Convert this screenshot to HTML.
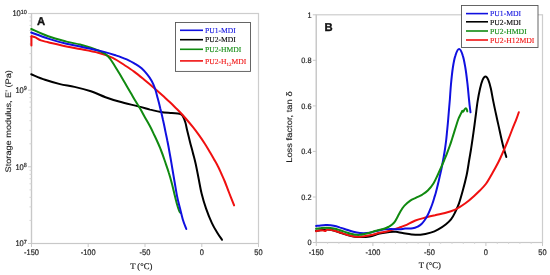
<!DOCTYPE html>
<html><head><meta charset="utf-8"><style>
html,body{margin:0;padding:0;background:#fff;width:550px;height:275px;overflow:hidden}
svg{display:block;text-rendering:geometricPrecision}
</style></head><body>
<svg width="550" height="275" viewBox="0 0 550 275">
<rect width="550" height="275" fill="#fff"/>
<rect x="31.5" y="13.5" width="227.0" height="230.0" fill="none" stroke="#cdcdcd" stroke-width="1.2"/>
<path d="M31.5,13.5 V243.5 H258.5" fill="none" stroke="#c8c8c8" stroke-width="1.2"/>
<path d="M28.0,243.5 H31.5" stroke="#c8c8c8" stroke-width="1"/>
<path d="M29.5,220.4 H31.5" stroke="#d4d4d4" stroke-width="1"/>
<path d="M29.5,206.9 H31.5" stroke="#d4d4d4" stroke-width="1"/>
<path d="M29.5,197.3 H31.5" stroke="#d4d4d4" stroke-width="1"/>
<path d="M29.5,189.9 H31.5" stroke="#d4d4d4" stroke-width="1"/>
<path d="M29.5,183.8 H31.5" stroke="#d4d4d4" stroke-width="1"/>
<path d="M29.5,178.7 H31.5" stroke="#d4d4d4" stroke-width="1"/>
<path d="M29.5,174.3 H31.5" stroke="#d4d4d4" stroke-width="1"/>
<path d="M29.5,170.3 H31.5" stroke="#d4d4d4" stroke-width="1"/>
<path d="M28.0,166.8 H31.5" stroke="#c8c8c8" stroke-width="1"/>
<path d="M29.5,143.8 H31.5" stroke="#d4d4d4" stroke-width="1"/>
<path d="M29.5,130.3 H31.5" stroke="#d4d4d4" stroke-width="1"/>
<path d="M29.5,120.7 H31.5" stroke="#d4d4d4" stroke-width="1"/>
<path d="M29.5,113.2 H31.5" stroke="#d4d4d4" stroke-width="1"/>
<path d="M29.5,107.2 H31.5" stroke="#d4d4d4" stroke-width="1"/>
<path d="M29.5,102.0 H31.5" stroke="#d4d4d4" stroke-width="1"/>
<path d="M29.5,97.6 H31.5" stroke="#d4d4d4" stroke-width="1"/>
<path d="M29.5,93.7 H31.5" stroke="#d4d4d4" stroke-width="1"/>
<path d="M28.0,90.2 H31.5" stroke="#c8c8c8" stroke-width="1"/>
<path d="M29.5,67.1 H31.5" stroke="#d4d4d4" stroke-width="1"/>
<path d="M29.5,53.6 H31.5" stroke="#d4d4d4" stroke-width="1"/>
<path d="M29.5,44.0 H31.5" stroke="#d4d4d4" stroke-width="1"/>
<path d="M29.5,36.6 H31.5" stroke="#d4d4d4" stroke-width="1"/>
<path d="M29.5,30.5 H31.5" stroke="#d4d4d4" stroke-width="1"/>
<path d="M29.5,25.4 H31.5" stroke="#d4d4d4" stroke-width="1"/>
<path d="M29.5,20.9 H31.5" stroke="#d4d4d4" stroke-width="1"/>
<path d="M29.5,17.0 H31.5" stroke="#d4d4d4" stroke-width="1"/>
<path d="M28.0,13.5 H31.5" stroke="#c8c8c8" stroke-width="1"/>
<path d="M31.5,243.5 V247.0" stroke="#c8c8c8" stroke-width="1"/>
<path d="M88.2,243.5 V247.0" stroke="#c8c8c8" stroke-width="1"/>
<path d="M145.0,243.5 V247.0" stroke="#c8c8c8" stroke-width="1"/>
<path d="M201.8,243.5 V247.0" stroke="#c8c8c8" stroke-width="1"/>
<path d="M258.5,243.5 V247.0" stroke="#c8c8c8" stroke-width="1"/>
<rect x="316.3" y="14.8" width="226.2" height="227.7" fill="none" stroke="#cdcdcd" stroke-width="1.2"/>
<path d="M316.3,14.8 V242.5 H542.5" fill="none" stroke="#c8c8c8" stroke-width="1.2"/>
<path d="M312.8,242.5 H316.3" stroke="#c8c8c8" stroke-width="1"/>
<path d="M312.8,197.0 H316.3" stroke="#c8c8c8" stroke-width="1"/>
<path d="M312.8,151.4 H316.3" stroke="#c8c8c8" stroke-width="1"/>
<path d="M312.8,105.9 H316.3" stroke="#c8c8c8" stroke-width="1"/>
<path d="M312.8,60.3 H316.3" stroke="#c8c8c8" stroke-width="1"/>
<path d="M312.8,14.8 H316.3" stroke="#c8c8c8" stroke-width="1"/>
<path d="M316.3,242.5 V246.0" stroke="#c8c8c8" stroke-width="1"/>
<path d="M327.6,242.5 V244.0" stroke="#d8d8d8" stroke-width="1"/>
<path d="M338.9,242.5 V244.0" stroke="#d8d8d8" stroke-width="1"/>
<path d="M350.2,242.5 V244.0" stroke="#d8d8d8" stroke-width="1"/>
<path d="M361.5,242.5 V244.0" stroke="#d8d8d8" stroke-width="1"/>
<path d="M372.9,242.5 V246.0" stroke="#c8c8c8" stroke-width="1"/>
<path d="M384.2,242.5 V244.0" stroke="#d8d8d8" stroke-width="1"/>
<path d="M395.5,242.5 V244.0" stroke="#d8d8d8" stroke-width="1"/>
<path d="M406.8,242.5 V244.0" stroke="#d8d8d8" stroke-width="1"/>
<path d="M418.1,242.5 V244.0" stroke="#d8d8d8" stroke-width="1"/>
<path d="M429.4,242.5 V246.0" stroke="#c8c8c8" stroke-width="1"/>
<path d="M440.7,242.5 V244.0" stroke="#d8d8d8" stroke-width="1"/>
<path d="M452.0,242.5 V244.0" stroke="#d8d8d8" stroke-width="1"/>
<path d="M463.3,242.5 V244.0" stroke="#d8d8d8" stroke-width="1"/>
<path d="M474.6,242.5 V244.0" stroke="#d8d8d8" stroke-width="1"/>
<path d="M485.9,242.5 V246.0" stroke="#c8c8c8" stroke-width="1"/>
<path d="M497.3,242.5 V244.0" stroke="#d8d8d8" stroke-width="1"/>
<path d="M508.6,242.5 V244.0" stroke="#d8d8d8" stroke-width="1"/>
<path d="M519.9,242.5 V244.0" stroke="#d8d8d8" stroke-width="1"/>
<path d="M531.2,242.5 V244.0" stroke="#d8d8d8" stroke-width="1"/>
<path d="M542.5,242.5 V246.0" stroke="#c8c8c8" stroke-width="1"/>
<path d="M31.2,74.2 C33.5,75.1 40.2,78.2 45.0,79.8 C49.8,81.4 55.1,82.9 60.0,84.1 C64.9,85.3 69.3,85.7 74.5,86.9 C79.7,88.1 85.7,89.6 90.9,91.3 C96.1,93.0 100.7,95.5 105.5,97.2 C110.3,99.0 114.5,100.3 120.0,101.8 C125.5,103.3 133.2,105.1 138.2,106.4 C143.2,107.7 146.2,108.6 150.0,109.6 C153.8,110.5 157.3,111.5 160.9,112.1 C164.5,112.7 168.7,112.8 171.8,113.1 C174.9,113.4 177.7,113.4 179.5,113.8 C181.3,114.2 181.5,114.3 182.5,115.7 C183.5,117.1 184.5,119.8 185.3,122.3 C186.1,124.8 186.4,127.2 187.2,130.5 C188.0,133.8 189.1,138.3 190.0,142.0 C190.9,145.7 191.9,148.9 192.8,152.5 C193.7,156.1 194.6,159.1 195.6,163.5 C196.6,167.9 197.7,174.0 198.7,179.0 C199.7,184.0 200.4,188.6 201.6,193.5 C202.8,198.4 204.3,203.4 206.0,208.3 C207.7,213.2 209.9,218.7 211.8,222.8 C213.7,227.0 215.9,230.4 217.6,233.2 C219.3,236.0 221.3,238.7 222.0,239.8" fill="none" stroke="#000000" stroke-width="2.0" stroke-linejoin="round" stroke-linecap="round"/>
<path d="M31.4,36.3 L31.4,45.4" fill="none" stroke="#f01010" stroke-width="2.0" stroke-linejoin="round" stroke-linecap="round"/>
<path d="M31.8,36.3 C32.4,36.5 34.0,36.7 35.5,37.4 C37.0,38.1 38.8,39.6 40.9,40.4 C43.0,41.2 44.0,41.3 48.2,42.3 C52.5,43.3 61.1,45.4 66.4,46.5 C71.7,47.6 74.7,48.1 80.0,49.1 C85.3,50.1 92.8,51.3 98.2,52.8 C103.7,54.2 108.2,55.7 112.7,57.8 C117.2,59.9 121.4,63.2 125.0,65.5 C128.6,67.8 131.1,69.4 134.1,71.6 C137.1,73.8 139.9,76.1 143.2,78.8 C146.5,81.5 150.8,85.0 154.1,87.9 C157.4,90.8 160.5,93.6 163.2,96.0 C165.8,98.4 168.0,100.4 170.0,102.3 C172.0,104.2 173.2,105.4 175.0,107.2 C176.8,109.0 179.0,111.1 181.0,113.2 C183.0,115.3 185.0,117.7 187.0,120.0 C189.0,122.3 191.0,124.7 193.0,127.2 C195.0,129.7 197.0,132.4 199.0,135.2 C201.0,138.0 203.2,141.2 205.0,144.0 C206.8,146.8 208.5,149.7 210.0,152.2 C211.5,154.7 212.7,156.9 214.0,159.2 C215.3,161.5 216.6,163.5 217.8,166.0 C219.1,168.5 220.3,171.4 221.5,174.0 C222.7,176.6 223.5,178.3 224.8,181.5 C226.1,184.7 227.6,189.0 229.2,193.0 C230.8,197.0 233.3,203.3 234.1,205.4" fill="none" stroke="#f01010" stroke-width="2.0" stroke-linejoin="round" stroke-linecap="round"/>
<path d="M31.2,29.0 C34.0,30.2 42.3,34.2 48.2,36.3 C54.1,38.4 61.1,40.2 66.4,41.6 C71.7,43.0 75.9,43.5 80.0,44.5 C84.1,45.5 87.9,46.7 90.9,47.7 C93.9,48.7 95.8,49.4 98.2,50.5 C100.6,51.6 103.5,52.8 105.5,54.1 C107.5,55.5 108.5,56.7 110.0,58.6 C111.5,60.5 112.9,63.0 114.5,65.5 C116.1,68.0 117.8,70.9 119.6,73.8 C121.3,76.7 123.2,79.9 125.0,83.0 C126.8,86.1 128.8,89.5 130.5,92.4 C132.2,95.3 133.4,97.5 135.0,100.2 C136.6,102.9 138.4,105.7 140.1,108.6 C141.8,111.5 143.3,114.5 145.0,117.5 C146.7,120.5 148.4,123.3 150.0,126.3 C151.6,129.3 153.1,132.6 154.5,135.5 C155.9,138.4 157.2,141.2 158.2,143.5 C159.2,145.8 159.6,146.8 160.7,149.5 C161.8,152.2 163.2,156.1 164.5,160.0 C165.8,163.9 167.6,168.7 168.8,172.7 C170.1,176.7 171.1,180.5 172.0,184.0 C172.9,187.5 173.5,190.2 174.3,193.5 C175.1,196.8 176.0,200.6 176.8,203.5 C177.6,206.4 178.6,209.4 179.2,211.0 C179.8,212.6 180.4,212.7 180.6,213.0" fill="none" stroke="#108a10" stroke-width="2.0" stroke-linejoin="round" stroke-linecap="round"/>
<path d="M31.2,32.5 C34.0,33.5 42.3,36.7 48.2,38.6 C54.1,40.5 61.1,42.5 66.4,43.8 C71.7,45.1 74.7,45.5 80.0,46.6 C85.3,47.7 92.1,48.9 98.2,50.4 C104.3,51.9 112.4,54.4 116.4,55.6 C120.4,56.8 120.0,56.8 122.0,57.6 C124.0,58.4 126.5,59.3 128.7,60.3 C130.9,61.3 132.8,62.5 135.0,63.8 C137.2,65.1 139.6,66.5 141.6,68.3 C143.6,70.1 145.5,72.3 147.2,74.4 C148.9,76.5 150.4,78.6 151.7,80.9 C153.0,83.2 154.0,85.6 155.0,88.5 C156.0,91.4 156.9,95.2 157.8,98.5 C158.7,101.8 159.5,105.0 160.3,108.5 C161.2,112.0 162.1,115.7 162.9,119.5 C163.8,123.3 164.7,127.9 165.4,131.4 C166.1,134.9 166.6,136.7 167.3,140.5 C168.1,144.3 169.1,149.8 169.9,154.5 C170.8,159.2 171.6,164.4 172.4,169.0 C173.2,173.6 173.8,177.5 174.6,182.0 C175.4,186.5 176.2,191.8 177.0,195.9 C177.8,200.0 178.6,202.9 179.6,206.8 C180.6,210.7 181.7,215.8 182.8,219.5 C183.9,223.2 185.7,227.4 186.3,229.0" fill="none" stroke="#1010e0" stroke-width="2.0" stroke-linejoin="round" stroke-linecap="round"/>
<path d="M316.1,230.8 C316.9,230.7 318.8,230.4 320.6,230.2 C322.4,230.0 324.9,229.5 327.1,229.6 C329.3,229.7 331.5,230.0 333.7,230.5 C335.9,231.0 338.0,232.0 340.2,232.7 C342.4,233.4 344.6,234.3 346.8,234.9 C349.0,235.5 351.1,236.2 353.3,236.5 C355.5,236.8 357.1,237.0 359.9,237.0 C362.6,237.0 366.5,237.0 369.8,236.4 C373.1,235.8 376.3,234.3 379.6,233.6 C382.9,232.8 386.7,232.2 389.4,231.9 C392.1,231.6 393.7,231.6 395.9,231.8 C398.1,232.0 400.0,232.6 402.6,233.0 C405.2,233.4 408.6,234.1 411.6,234.4 C414.6,234.7 417.3,235.0 420.5,234.7 C423.7,234.4 427.7,233.5 430.7,232.6 C433.7,231.7 435.8,230.7 438.3,229.3 C440.9,227.9 443.9,225.9 446.0,224.2 C448.1,222.5 449.5,221.2 451.0,219.3 C452.5,217.4 453.7,215.3 455.0,212.6 C456.3,209.9 457.7,207.0 459.0,203.3 C460.3,199.6 461.5,195.2 462.8,190.5 C464.1,185.8 465.5,180.4 466.6,175.3 C467.7,170.2 468.5,164.2 469.2,160.0 C469.9,155.8 470.3,153.6 470.9,150.0 C471.5,146.4 472.0,142.9 472.6,138.7 C473.2,134.5 474.0,128.9 474.5,125.0 C475.0,121.0 475.3,118.9 475.8,115.0 C476.3,111.1 476.9,105.8 477.6,101.4 C478.3,97.0 479.2,92.4 480.0,88.8 C480.8,85.2 481.7,81.9 482.6,79.8 C483.5,77.7 484.6,76.4 485.5,76.4 C486.4,76.4 487.4,77.7 488.3,79.8 C489.2,81.9 490.1,85.2 490.9,88.8 C491.7,92.4 492.4,97.0 493.3,101.4 C494.2,105.8 495.1,110.2 496.2,115.0 C497.2,119.8 498.5,125.4 499.6,130.5 C500.7,135.6 501.9,141.1 503.0,145.5 C504.1,149.9 505.8,155.1 506.3,157.0" fill="none" stroke="#000000" stroke-width="2.0" stroke-linejoin="round" stroke-linecap="round"/>
<path d="M316.1,231.2 C316.9,231.0 319.4,230.4 320.6,230.3 C321.8,230.2 322.5,230.3 323.3,230.4 C324.1,230.5 324.9,231.1 325.5,231.0 C326.1,230.9 325.7,229.7 327.1,229.6 C328.5,229.5 331.5,229.9 333.7,230.4 C335.9,230.9 338.0,231.8 340.2,232.5 C342.4,233.2 344.6,234.1 346.8,234.7 C349.0,235.3 351.1,236.0 353.3,236.3 C355.5,236.7 357.1,237.0 359.9,236.8 C362.6,236.6 366.5,235.9 369.8,235.2 C373.1,234.5 376.3,233.6 379.6,232.8 C382.9,232.1 386.1,231.6 389.4,230.7 C392.7,229.8 396.6,228.5 399.2,227.6 C401.8,226.7 402.5,226.6 405.2,225.4 C407.9,224.2 412.0,221.8 415.4,220.5 C418.8,219.2 422.3,218.4 425.6,217.5 C428.9,216.6 431.8,215.9 435.0,215.2 C438.2,214.4 441.6,213.9 445.0,213.0 C448.4,212.1 451.8,211.2 455.2,209.6 C458.6,208.0 462.4,205.4 465.4,203.3 C468.4,201.2 470.6,199.2 473.0,197.0 C475.4,194.8 477.9,192.6 480.1,190.3 C482.3,188.1 484.1,186.4 486.2,183.5 C488.3,180.6 490.6,176.3 492.6,172.8 C494.6,169.3 496.5,165.8 498.2,162.5 C499.9,159.2 501.1,156.5 502.6,153.0 C504.2,149.5 506.0,145.2 507.5,141.5 C509.0,137.8 510.4,134.2 511.8,130.5 C513.2,126.8 515.0,122.6 516.2,119.6 C517.4,116.6 518.4,113.5 518.8,112.3" fill="none" stroke="#f01010" stroke-width="2.0" stroke-linejoin="round" stroke-linecap="round"/>
<path d="M316.1,226.0 C316.9,225.9 318.8,225.6 320.6,225.4 C322.4,225.2 324.9,225.0 327.1,225.1 C329.3,225.2 331.5,225.4 333.7,225.8 C335.9,226.2 338.0,226.9 340.2,227.6 C342.4,228.2 344.6,229.0 346.8,229.7 C349.0,230.4 351.1,231.2 353.3,231.8 C355.5,232.4 357.1,232.8 359.9,233.0 C362.6,233.2 366.5,233.2 369.8,232.7 C373.1,232.2 376.3,230.8 379.6,230.2 C382.9,229.6 386.1,229.2 389.4,229.1 C392.7,228.9 396.6,229.4 399.2,229.3 C401.8,229.2 402.8,228.8 405.0,228.6 C407.2,228.4 410.5,228.7 412.7,228.3 C414.9,228.0 416.5,227.2 418.0,226.5 C419.5,225.8 420.4,225.1 421.5,224.0 C422.6,222.9 423.8,221.4 424.8,220.0 C425.8,218.6 426.7,217.1 427.6,215.3 C428.5,213.6 429.4,211.4 430.2,209.5 C431.0,207.6 431.6,205.9 432.3,204.0 C433.0,202.1 433.6,200.0 434.2,198.0 C434.8,196.0 435.3,194.8 436.0,192.0 C436.7,189.2 437.9,184.6 438.6,181.5 C439.3,178.4 439.8,176.1 440.4,173.5 C441.0,170.9 441.5,168.7 442.0,166.0 C442.5,163.3 443.1,160.3 443.6,157.5 C444.1,154.7 444.6,151.9 445.0,149.0 C445.4,146.1 445.8,143.3 446.2,140.0 C446.6,136.7 446.9,132.7 447.3,129.0 C447.7,125.3 447.9,123.0 448.3,118.0 C448.7,113.0 449.4,104.7 449.9,99.0 C450.3,93.3 450.5,89.2 451.0,84.0 C451.5,78.8 452.1,72.7 452.8,68.0 C453.5,63.3 454.3,58.8 455.4,55.6 C456.4,52.4 457.9,49.0 459.1,49.0 C460.3,49.0 461.8,52.4 462.8,55.6 C463.9,58.8 464.6,63.4 465.4,68.0 C466.2,72.6 466.8,78.1 467.4,83.2 C468.0,88.3 468.5,94.6 468.9,98.4 C469.3,102.2 469.4,103.7 469.7,106.0 C470.0,108.3 470.4,111.2 470.5,112.3" fill="none" stroke="#1010e0" stroke-width="2.0" stroke-linejoin="round" stroke-linecap="round"/>
<path d="M316.1,228.7 C316.9,228.6 318.8,228.4 320.6,228.2 C322.4,228.0 324.9,227.6 327.1,227.7 C329.3,227.8 331.5,228.1 333.7,228.5 C335.9,228.9 338.0,229.6 340.2,230.3 C342.4,231.0 344.6,231.8 346.8,232.5 C349.0,233.2 351.1,233.9 353.3,234.3 C355.5,234.7 357.1,235.1 359.9,234.8 C362.6,234.5 367.3,233.3 369.8,232.7 C372.3,232.1 373.3,231.5 375.0,231.0 C376.7,230.5 378.4,230.2 380.0,229.8 C381.6,229.4 383.4,229.0 384.8,228.5 C386.2,228.0 387.1,227.6 388.2,227.0 C389.3,226.4 390.3,225.9 391.4,225.0 C392.5,224.1 393.6,223.3 394.7,221.8 C395.8,220.3 396.9,218.0 398.0,216.0 C399.1,214.0 400.4,211.5 401.5,209.8 C402.6,208.1 403.0,207.1 404.5,205.6 C406.0,204.1 408.4,201.9 410.3,200.6 C412.2,199.3 414.2,198.7 416.2,197.7 C418.1,196.7 420.1,196.0 422.0,194.8 C423.9,193.6 425.9,192.4 427.8,190.5 C429.7,188.6 432.0,185.8 433.6,183.2 C435.2,180.6 436.5,177.6 437.7,175.0 C438.9,172.4 439.9,170.1 441.0,167.6 C442.1,165.1 443.3,162.4 444.3,160.0 C445.3,157.6 446.1,155.7 447.0,153.3 C447.9,150.9 449.0,148.0 449.9,145.5 C450.8,143.0 451.1,141.9 452.2,138.5 C453.3,135.1 455.4,128.2 456.4,125.0 C457.4,121.8 457.6,121.1 458.2,119.5 C458.8,117.9 459.5,116.6 460.0,115.5 C460.5,114.4 461.0,113.5 461.4,112.7 C461.8,111.9 462.0,111.1 462.3,110.9 C462.6,110.7 462.8,111.8 463.2,111.6 C463.6,111.4 464.1,110.1 464.5,109.5 C464.9,108.9 465.5,108.2 465.9,108.2 C466.3,108.2 466.6,109.0 466.8,109.5 C467.0,110.0 467.2,111.1 467.3,111.4" fill="none" stroke="#108a10" stroke-width="2.0" stroke-linejoin="round" stroke-linecap="round"/>
<text transform="translate(26.8,246.4) scale(0.92,1)" text-anchor="end" font-family="Liberation Sans, Arial, sans-serif" font-size="8.2" fill="#222" stroke="#222" stroke-width="0.2">10<tspan font-size="5.9" dy="-2.8">7</tspan></text>
<text transform="translate(26.8,169.7) scale(0.92,1)" text-anchor="end" font-family="Liberation Sans, Arial, sans-serif" font-size="8.2" fill="#222" stroke="#222" stroke-width="0.2">10<tspan font-size="5.9" dy="-2.8">8</tspan></text>
<text transform="translate(26.8,93.1) scale(0.92,1)" text-anchor="end" font-family="Liberation Sans, Arial, sans-serif" font-size="8.2" fill="#222" stroke="#222" stroke-width="0.2">10<tspan font-size="5.9" dy="-2.8">9</tspan></text>
<text transform="translate(26.8,16.4) scale(0.92,1)" text-anchor="end" font-family="Liberation Sans, Arial, sans-serif" font-size="8.2" fill="#222" stroke="#222" stroke-width="0.2">10<tspan font-size="5.9" dy="-2.8">10</tspan></text>
<text transform="translate(31.5,255.3) scale(0.92,1)" text-anchor="middle" font-family="Liberation Sans, Arial, sans-serif" font-size="8.1" fill="#222" stroke="#222" stroke-width="0.2">-150</text>
<text transform="translate(88.2,255.3) scale(0.92,1)" text-anchor="middle" font-family="Liberation Sans, Arial, sans-serif" font-size="8.1" fill="#222" stroke="#222" stroke-width="0.2">-100</text>
<text transform="translate(145.0,255.3) scale(0.92,1)" text-anchor="middle" font-family="Liberation Sans, Arial, sans-serif" font-size="8.1" fill="#222" stroke="#222" stroke-width="0.2">-50</text>
<text transform="translate(201.8,255.3) scale(0.92,1)" text-anchor="middle" font-family="Liberation Sans, Arial, sans-serif" font-size="8.1" fill="#222" stroke="#222" stroke-width="0.2">0</text>
<text transform="translate(258.5,255.3) scale(0.92,1)" text-anchor="middle" font-family="Liberation Sans, Arial, sans-serif" font-size="8.1" fill="#222" stroke="#222" stroke-width="0.2">50</text>
<text x="141.2" y="268.9" text-anchor="middle" font-family="Liberation Serif, Times New Roman, serif" font-size="8.6" fill="#222" stroke="#222" stroke-width="0.2">T (°C)</text>
<text transform="translate(10.8,121.3) rotate(-90) scale(1,0.87)" text-anchor="middle" font-family="Liberation Sans, Arial, sans-serif" font-size="9.2" fill="#222" stroke="#222" stroke-width="0.15">Storage modulus, E' (Pa)</text>
<text x="37" y="24.6" font-family="Liberation Sans, Arial, sans-serif" font-weight="bold" font-size="11.3" fill="#111" stroke="#111" stroke-width="0.35">A</text>
<text transform="translate(311.5,245.3) scale(0.93,1)" text-anchor="end" font-family="Liberation Sans, Arial, sans-serif" font-size="7.9" fill="#222" stroke="#222" stroke-width="0.2">0</text>
<text transform="translate(311.5,199.8) scale(0.93,1)" text-anchor="end" font-family="Liberation Sans, Arial, sans-serif" font-size="7.9" fill="#222" stroke="#222" stroke-width="0.2">0.2</text>
<text transform="translate(311.5,154.2) scale(0.93,1)" text-anchor="end" font-family="Liberation Sans, Arial, sans-serif" font-size="7.9" fill="#222" stroke="#222" stroke-width="0.2">0.4</text>
<text transform="translate(311.5,108.7) scale(0.93,1)" text-anchor="end" font-family="Liberation Sans, Arial, sans-serif" font-size="7.9" fill="#222" stroke="#222" stroke-width="0.2">0.6</text>
<text transform="translate(311.5,63.1) scale(0.93,1)" text-anchor="end" font-family="Liberation Sans, Arial, sans-serif" font-size="7.9" fill="#222" stroke="#222" stroke-width="0.2">0.8</text>
<text transform="translate(311.5,17.6) scale(0.93,1)" text-anchor="end" font-family="Liberation Sans, Arial, sans-serif" font-size="7.9" fill="#222" stroke="#222" stroke-width="0.2">1</text>
<text transform="translate(316.3,254.8) scale(0.92,1)" text-anchor="middle" font-family="Liberation Sans, Arial, sans-serif" font-size="8.1" fill="#222" stroke="#222" stroke-width="0.2">-150</text>
<text transform="translate(372.9,254.8) scale(0.92,1)" text-anchor="middle" font-family="Liberation Sans, Arial, sans-serif" font-size="8.1" fill="#222" stroke="#222" stroke-width="0.2">-100</text>
<text transform="translate(429.4,254.8) scale(0.92,1)" text-anchor="middle" font-family="Liberation Sans, Arial, sans-serif" font-size="8.1" fill="#222" stroke="#222" stroke-width="0.2">-50</text>
<text transform="translate(485.9,254.8) scale(0.92,1)" text-anchor="middle" font-family="Liberation Sans, Arial, sans-serif" font-size="8.1" fill="#222" stroke="#222" stroke-width="0.2">0</text>
<text transform="translate(542.5,254.8) scale(0.92,1)" text-anchor="middle" font-family="Liberation Sans, Arial, sans-serif" font-size="8.1" fill="#222" stroke="#222" stroke-width="0.2">50</text>
<text x="429.8" y="267.8" text-anchor="middle" font-family="Liberation Serif, Times New Roman, serif" font-size="8.6" fill="#222" stroke="#222" stroke-width="0.2">T (°C)</text>
<text transform="translate(291.9,127.1) rotate(-90) scale(1,0.87)" text-anchor="middle" font-family="Liberation Sans, Arial, sans-serif" font-size="9.4" fill="#222" stroke="#222" stroke-width="0.15">Loss factor, tan δ</text>
<text x="324.5" y="31.2" font-family="Liberation Sans, Arial, sans-serif" font-weight="bold" font-size="11.3" fill="#111" stroke="#111" stroke-width="0.35">B</text>
<rect x="175.5" y="22.5" width="75" height="48.9" fill="#fff" stroke="#555" stroke-width="0.9"/>
<path d="M180,30.3 H203" stroke="#1010e0" stroke-width="1.6"/>
<text x="205" y="33.0" font-family="Liberation Serif, Times New Roman, serif" font-size="7.6" fill="#1010e0" stroke="#1010e0" stroke-width="0.1">PU1-MDI</text>
<path d="M180,39.7 H203" stroke="#000000" stroke-width="1.6"/>
<text x="205" y="42.4" font-family="Liberation Serif, Times New Roman, serif" font-size="7.6" fill="#000000" stroke="#000000" stroke-width="0.1">PU2-MDI</text>
<path d="M180,49.3 H203" stroke="#108a10" stroke-width="1.6"/>
<text x="205" y="52.0" font-family="Liberation Serif, Times New Roman, serif" font-size="7.6" fill="#108a10" stroke="#108a10" stroke-width="0.1">PU2-HMDI</text>
<path d="M180,60.9 H203" stroke="#f01010" stroke-width="1.6"/>
<text x="205" y="63.6" font-family="Liberation Serif, Times New Roman, serif" font-size="7.6" fill="#f01010" stroke="#f01010" stroke-width="0.1">PU2-H<tspan font-size="5" dy="2.4">12</tspan><tspan dy="-2.4">MDI</tspan></text>
<rect x="461.5" y="5.5" width="76.5" height="42" fill="#fff" stroke="#555" stroke-width="0.9"/>
<path d="M466,13.6 H488" stroke="#1010e0" stroke-width="1.6"/>
<text x="490" y="16.3" font-family="Liberation Serif, Times New Roman, serif" font-size="7.7" fill="#1010e0" stroke="#1010e0" stroke-width="0.1">PU1-MDI</text>
<path d="M466,21.8 H488" stroke="#000000" stroke-width="1.6"/>
<text x="490" y="24.5" font-family="Liberation Serif, Times New Roman, serif" font-size="7.7" fill="#000000" stroke="#000000" stroke-width="0.1">PU2-MDI</text>
<path d="M466,31 H488" stroke="#108a10" stroke-width="1.6"/>
<text x="490" y="33.7" font-family="Liberation Serif, Times New Roman, serif" font-size="7.7" fill="#108a10" stroke="#108a10" stroke-width="0.1">PU2-HMDI</text>
<path d="M466,40 H488" stroke="#f01010" stroke-width="1.6"/>
<text x="490" y="42.7" font-family="Liberation Serif, Times New Roman, serif" font-size="7.7" fill="#f01010" stroke="#f01010" stroke-width="0.1">PU2-H12MDI</text>
</svg>
</body></html>
